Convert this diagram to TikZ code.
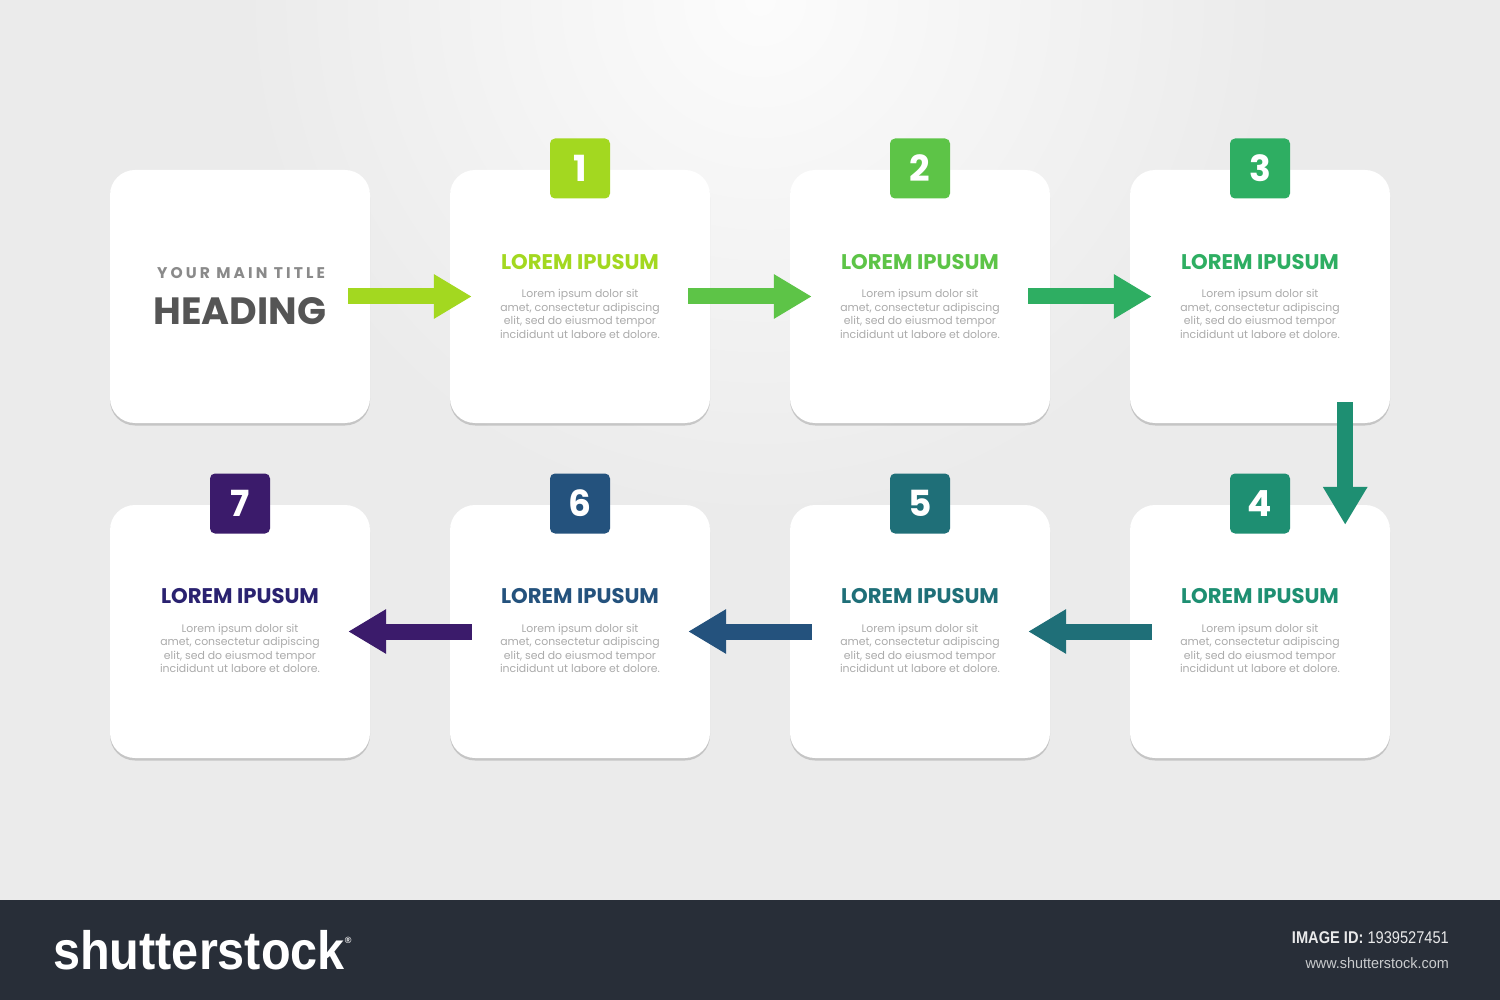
\documentclass[tikz,border=0pt]{standalone}
\usepackage{fontspec}
\setmainfont{Poppins}
\newfontfamily\libsans{Liberation Sans}
\usetikzlibrary{arrows.meta,shadows,calc}
\definecolor{bg}{HTML}{EBEBEB}
\definecolor{cA}{HTML}{A3D820}
\definecolor{cB}{HTML}{5DC447}
\definecolor{cC}{HTML}{2EAE62}
\definecolor{cD}{HTML}{1E8F72}
\definecolor{cE}{HTML}{1F6F78}
\definecolor{cF}{HTML}{24527D}
\definecolor{cG}{HTML}{3B1B6B}
\definecolor{tG}{HTML}{2A2270}
\definecolor{bodygray}{HTML}{ABABAB}
\definecolor{headgray}{HTML}{555555}
\definecolor{subgray}{HTML}{8A8A8A}
\definecolor{bar}{HTML}{282E38}
\begin{document}
\begin{tikzpicture}[x=1pt,y=-1pt,
  card/.style={fill=white, rounded corners=25pt, minimum width=260pt, minimum height=253pt, draw=none, inner sep=0pt,
    drop shadow={shadow xshift=0pt, shadow yshift=-2.5pt, opacity=0.16, fill=black}},
  badge/.style={fill=#1, rounded corners=5pt, minimum width=60pt, minimum height=60pt, inner sep=0pt, text=white,
    font=\bfseries\fontsize{36}{36}\selectfont},
  ttl/.style={text=#1, font=\bfseries\fontsize{21.2}{22}\selectfont, inner sep=0pt},
  bodytxt/.style={text=bodygray, font=\fontsize{10.9}{13.5}\selectfont, align=center, inner sep=0pt},
  arr/.style={draw=#1, line width=16pt, -{Triangle[width=42pt,length=38pt]}, shorten <=-22pt, shorten >=-22pt},
]
\useasboundingbox (0,0) rectangle (1500,1000);
% background
\begin{scope}
  \clip (0,0) rectangle (1500,900);
  \fill[bg] (0,0) rectangle (1500,900);
  \shade[inner color=white!85!bg, outer color=bg] (760,0) circle (520);
\end{scope}

% cards
\node[card] (c0) at (240,296.5) {};
\node[card] (c1) at (580,296.5) {};
\node[card] (c2) at (920,296.5) {};
\node[card] (c3) at (1260,296.5) {};
\node[card] (c4) at (1260,631.5) {};
\node[card] (c5) at (920,631.5) {};
\node[card] (c6) at (580,631.5) {};
\node[card] (c7) at (240,631.5) {};

% main title
\node[text=subgray, inner sep=0pt, font=\bfseries\fontsize{15.5}{15.5}\selectfont\addfontfeature{LetterSpace=20}] (sub0) at (241,273) {YOUR MAIN TITLE};
\node[text=headgray, inner sep=0pt, font=\bfseries\fontsize{38}{38}\selectfont] (head0) at (240,311) {HEADING};

% badges
\node[badge=cA] (b1) at (580,168.5) {1};
\node[badge=cB] (b2) at (920,168.5) {2};
\node[badge=cC] (b3) at (1260,168.5) {3};
\node[badge=cD] (b4) at (1260,503.5) {4};
\node[badge=cE] (b5) at (920,503.5) {5};
\node[badge=cF] (b6) at (580,503.5) {6};
\node[badge=cG] (b7) at (240,503.5) {7};

% titles
\node[ttl=cA] (t1) at (580,262) {LOREM IPUSUM};
\node[ttl=cB] (t2) at (920,262) {LOREM IPUSUM};
\node[ttl=cC] (t3) at (1260,262) {LOREM IPUSUM};
\node[ttl=cD] (t4) at (1260,596) {LOREM IPUSUM};
\node[ttl=cE] (t5) at (920,596) {LOREM IPUSUM};
\node[ttl=cF] (t6) at (580,596) {LOREM IPUSUM};
\node[ttl=tG] (t7) at (240,596) {LOREM IPUSUM};

% body texts
\foreach \n/\x/\y in {1/580/314, 2/920/314, 3/1260/314, 4/1260/648.5, 5/920/648.5, 6/580/648.5, 7/240/648.5}{
  \node[bodytxt] (d\n) at (\x,\y) {Lorem ipsum dolor sit\\amet, consectetur adipiscing\\elit, sed do eiusmod tempor\\incididunt ut labore et dolore.};
}

% arrows
\draw[arr=cA] (c0) -- (c1);
\draw[arr=cB] (c1) -- (c2);
\draw[arr=cC] (c2) -- (c3);
\draw[arr=cD, shorten <=0pt, shorten >=0pt] ([xshift=-45pt,yshift=21pt]c3.south east) -- ([xshift=-45pt,yshift=-20pt]c4.north east);
\draw[arr=cE] (c4) -- (c5);
\draw[arr=cF] (c5) -- (c6);
\draw[arr=cG] (c6) -- (c7);

% bottom bar
\fill[bar] (0,900) rectangle (1500,1000);
\node[anchor=base west, text=white, inner sep=0pt, font=\libsans\bfseries\fontsize{54}{54}\selectfont] (logo) at (53,969)
  {\scalebox{0.9}[1]{shutterstock}\raisebox{26pt}{\fontsize{9}{9}\selectfont\textregistered}};
\node[anchor=east, text=white!90!bar, inner sep=0pt, font=\libsans\fontsize{17}{17}\selectfont] (imgid) at (1449,938)
  {\scalebox{0.86}[1]{\textbf{IMAGE ID:} 1939527451}};
\node[anchor=east, text=white!75!bar, inner sep=0pt, font=\libsans\fontsize{15}{15}\selectfont] (www) at (1449,963)
  {\scalebox{0.96}[1]{www.shutterstock.com}};
\end{tikzpicture}
\end{document}
